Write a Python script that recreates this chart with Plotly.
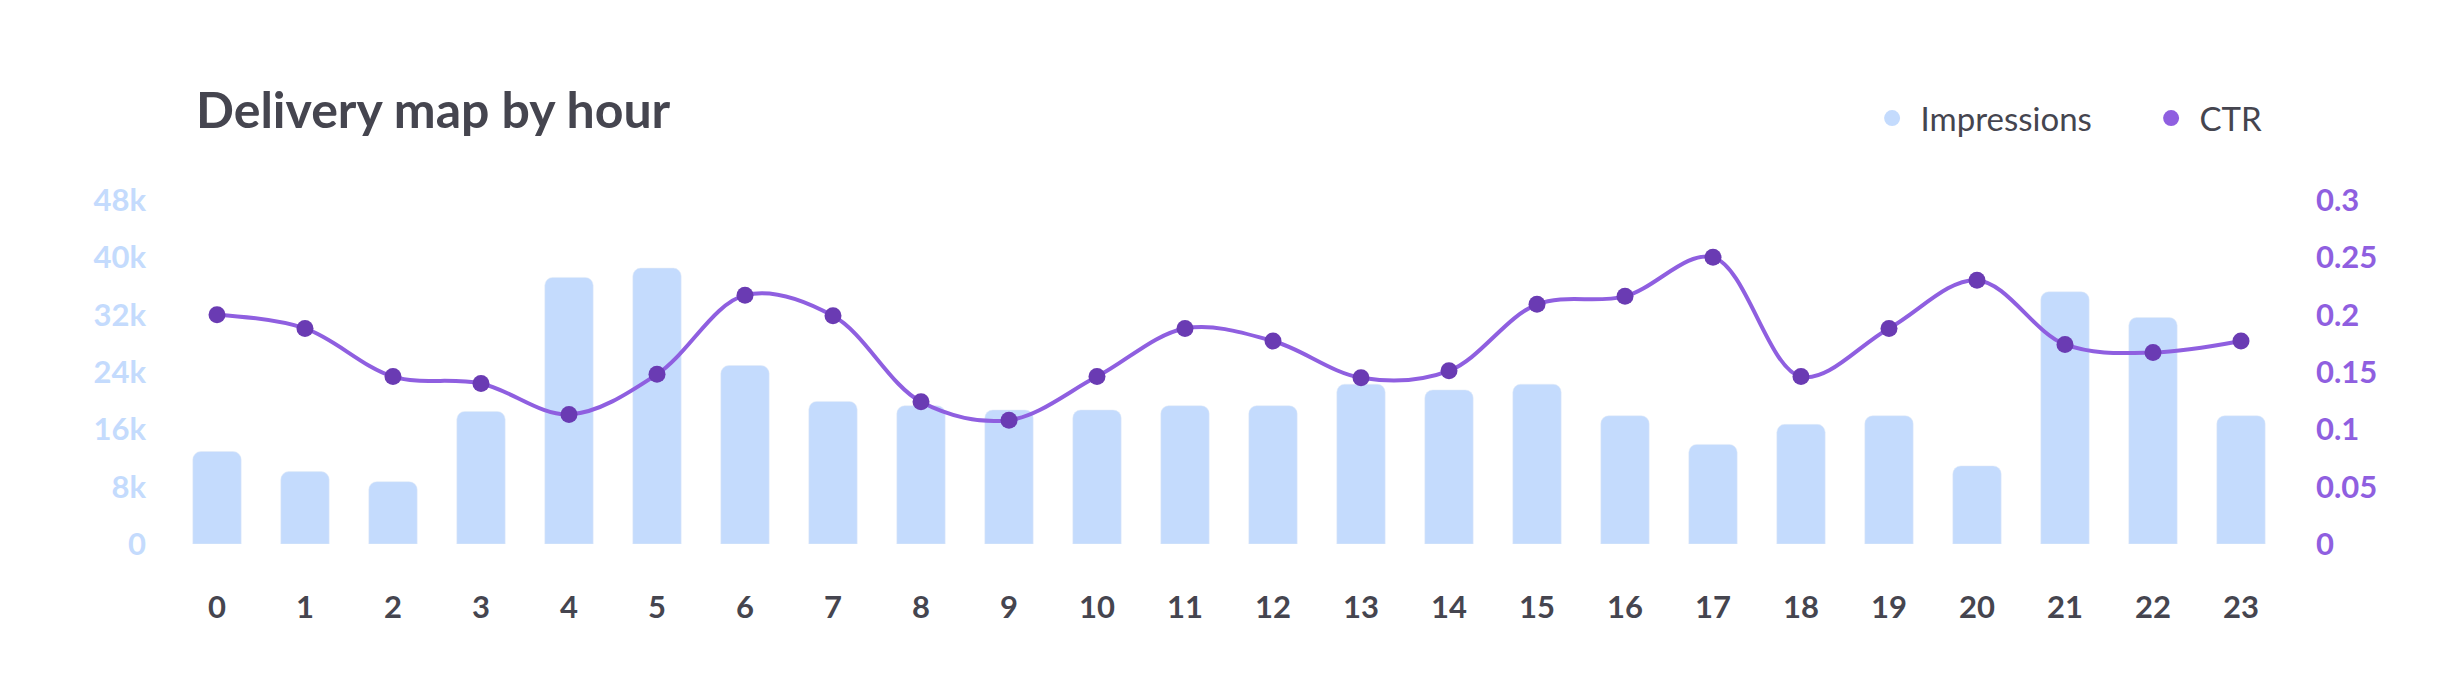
import plotly.graph_objects as go

# hours of the day
hours = list(range(24))

# impressions per hour (k)
impressions = [12.9, 10.1, 8.7, 18.5, 37.2, 38.5, 24.9, 19.9, 19.3, 18.7, 18.7, 19.3,
               19.3, 22.3, 21.5, 22.3, 17.9, 13.9, 16.7, 17.9, 10.9, 35.2, 31.6, 17.9]
impressions = [v * 1000 for v in impressions]

# click-through rate per hour
ctr = [0.2, 0.188, 0.146, 0.14, 0.113, 0.148, 0.217, 0.199, 0.124, 0.108, 0.146, 0.188,
       0.177, 0.145, 0.151, 0.209, 0.216, 0.25, 0.146, 0.188, 0.23, 0.174, 0.167, 0.177]

left_ticks = [0, 8000, 16000, 24000, 32000, 40000, 48000]
left_labels = ["0", "8k", "16k", "24k", "32k", "40k", "48k"]
right_ticks = [0, 0.05, 0.1, 0.15, 0.2, 0.25, 0.3]
right_labels = ["0", "0.05", "0.1", "0.15", "0.2", "0.25", "0.3"]

BAR = "#c4dbfd"
LINE = "#8f5fe0"
DOT = "#6a3bb3"
DARK = "#45454f"
FONT = "Lato"

# page body keeps its default 8px margin, so the figure is 16px smaller
W, H = 2444, 684

fig = go.Figure()

fig.add_bar(x=hours, y=impressions, marker=dict(color=BAR, cornerradius=8),
            showlegend=False, hoverinfo="skip")
fig.add_scatter(x=hours, y=ctr, yaxis="y2", mode="lines+markers",
                line=dict(color=LINE, width=4, shape="spline", smoothing=1),
                marker=dict(color=DOT, size=17), showlegend=False, hoverinfo="skip")

# legend entries drawn as dots
fig.add_scatter(x=[None], y=[None], mode="markers", name=" Impressions",
                marker=dict(color=BAR, size=16))
fig.add_scatter(x=[None], y=[None], mode="markers", name=" CTR", yaxis="y2",
                marker=dict(color=LINE, size=16))

fig.update_layout(
    width=W, height=H,
    margin=dict(l=165, r=167, t=192, b=148),
    paper_bgcolor="white", plot_bgcolor="white",
    font=dict(family=FONT, color=DARK),
    bargap=0.45,
    title=dict(text="Delivery map by hour", xref="container", x=188 / W, xanchor="left",
               yref="container", y=1 - 102 / H, yanchor="middle",
               font=dict(family=FONT, size=50, weight=700, color=DARK)),
    xaxis=dict(range=[-0.5, 23.5], tickmode="array", tickvals=hours,
               ticktext=[str(h) for h in hours], showgrid=False, zeroline=False,
               showline=False, ticks="", ticklabelstandoff=42,
               tickfont=dict(family=FONT, size=31, weight=700, color=DARK)),
    yaxis=dict(range=[0, 48000], tickmode="array", tickvals=left_ticks, ticktext=left_labels,
               showgrid=False, zeroline=False, showline=False, ticks="",
               ticklabelstandoff=26,
               tickfont=dict(family=FONT, size=31, weight=700, color=BAR)),
    yaxis2=dict(range=[0, 0.3], overlaying="y", side="right", tickmode="array",
                tickvals=right_ticks, ticktext=right_labels, showgrid=False,
                zeroline=False, showline=False, ticks="", ticklabelstandoff=30,
                tickfont=dict(family=FONT, size=31, weight=700, color=LINE)),
    legend=dict(orientation="h", x=0.8045, xanchor="left", y=1.238, yanchor="middle",
                font=dict(family=FONT, size=33, color=DARK), itemsizing="trace",
                entrywidth=234, bgcolor="rgba(0,0,0,0)"),
)

fig.write_html("out.html")
